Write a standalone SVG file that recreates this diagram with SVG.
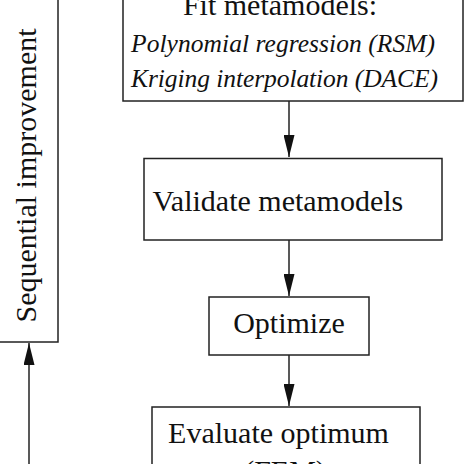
<svg xmlns="http://www.w3.org/2000/svg" width="464" height="464" viewBox="0 0 464 464">
<defs>
<style>
.box{fill:#fff;stroke:#222;stroke-width:1.5}
.t{font-family:"Liberation Serif","Times New Roman",serif;font-size:30px;fill:#111}
.i{font-family:"Liberation Serif","Times New Roman",serif;font-size:25.5px;font-style:italic;fill:#111}
.c{fill:none;stroke:#222;stroke-width:1.5}
</style>
<marker id="ah" markerUnits="userSpaceOnUse" markerWidth="22" markerHeight="11" refX="22" refY="5.5" orient="auto">
<path d="M0,0 L22,5.5 L0,11 z" fill="#111"/>
</marker>
</defs>
<rect width="464" height="464" fill="#fff"/>
<g id="sequential">
<rect class="box" x="-10" y="-10" width="68" height="352"/>
<text class="t" transform="translate(36,175.5) rotate(-90)" text-anchor="middle">Sequential improvement</text>
</g>
<g id="fit">
<rect class="box" x="123" y="-10" width="340" height="111"/>
<text class="t" x="280" y="15" text-anchor="middle">Fit metamodels:</text>
<text class="i" x="131" y="51.5" textLength="304" lengthAdjust="spacing">Polynomial regression (RSM)</text>
<text class="i" x="131" y="87" textLength="307" lengthAdjust="spacing">Kriging interpolation (DACE)</text>
</g>
<g id="validate">
<rect class="box" x="144" y="158.5" width="298" height="81.5"/>
<text class="t" x="152.5" y="211">Validate metamodels</text>
</g>
<g id="optimize">
<rect class="box" x="209" y="297" width="160" height="58"/>
<text class="t" x="289" y="333" text-anchor="middle">Optimize</text>
</g>
<g id="evaluate">
<rect class="box" x="152" y="407" width="268" height="80"/>
<text class="t" x="278.5" y="443" text-anchor="middle">Evaluate optimum</text>
<text class="t" x="285" y="481" text-anchor="middle">(FEM)</text>
</g>
<g id="connectors">
<path class="c" d="M289,101 L289,157" marker-end="url(#ah)"/>
<path class="c" d="M289,240 L289,296" marker-end="url(#ah)"/>
<path class="c" d="M289,355 L289,406" marker-end="url(#ah)"/>
<path class="c" d="M29,470 L29,343" marker-end="url(#ah)"/>
</g>
</svg>
